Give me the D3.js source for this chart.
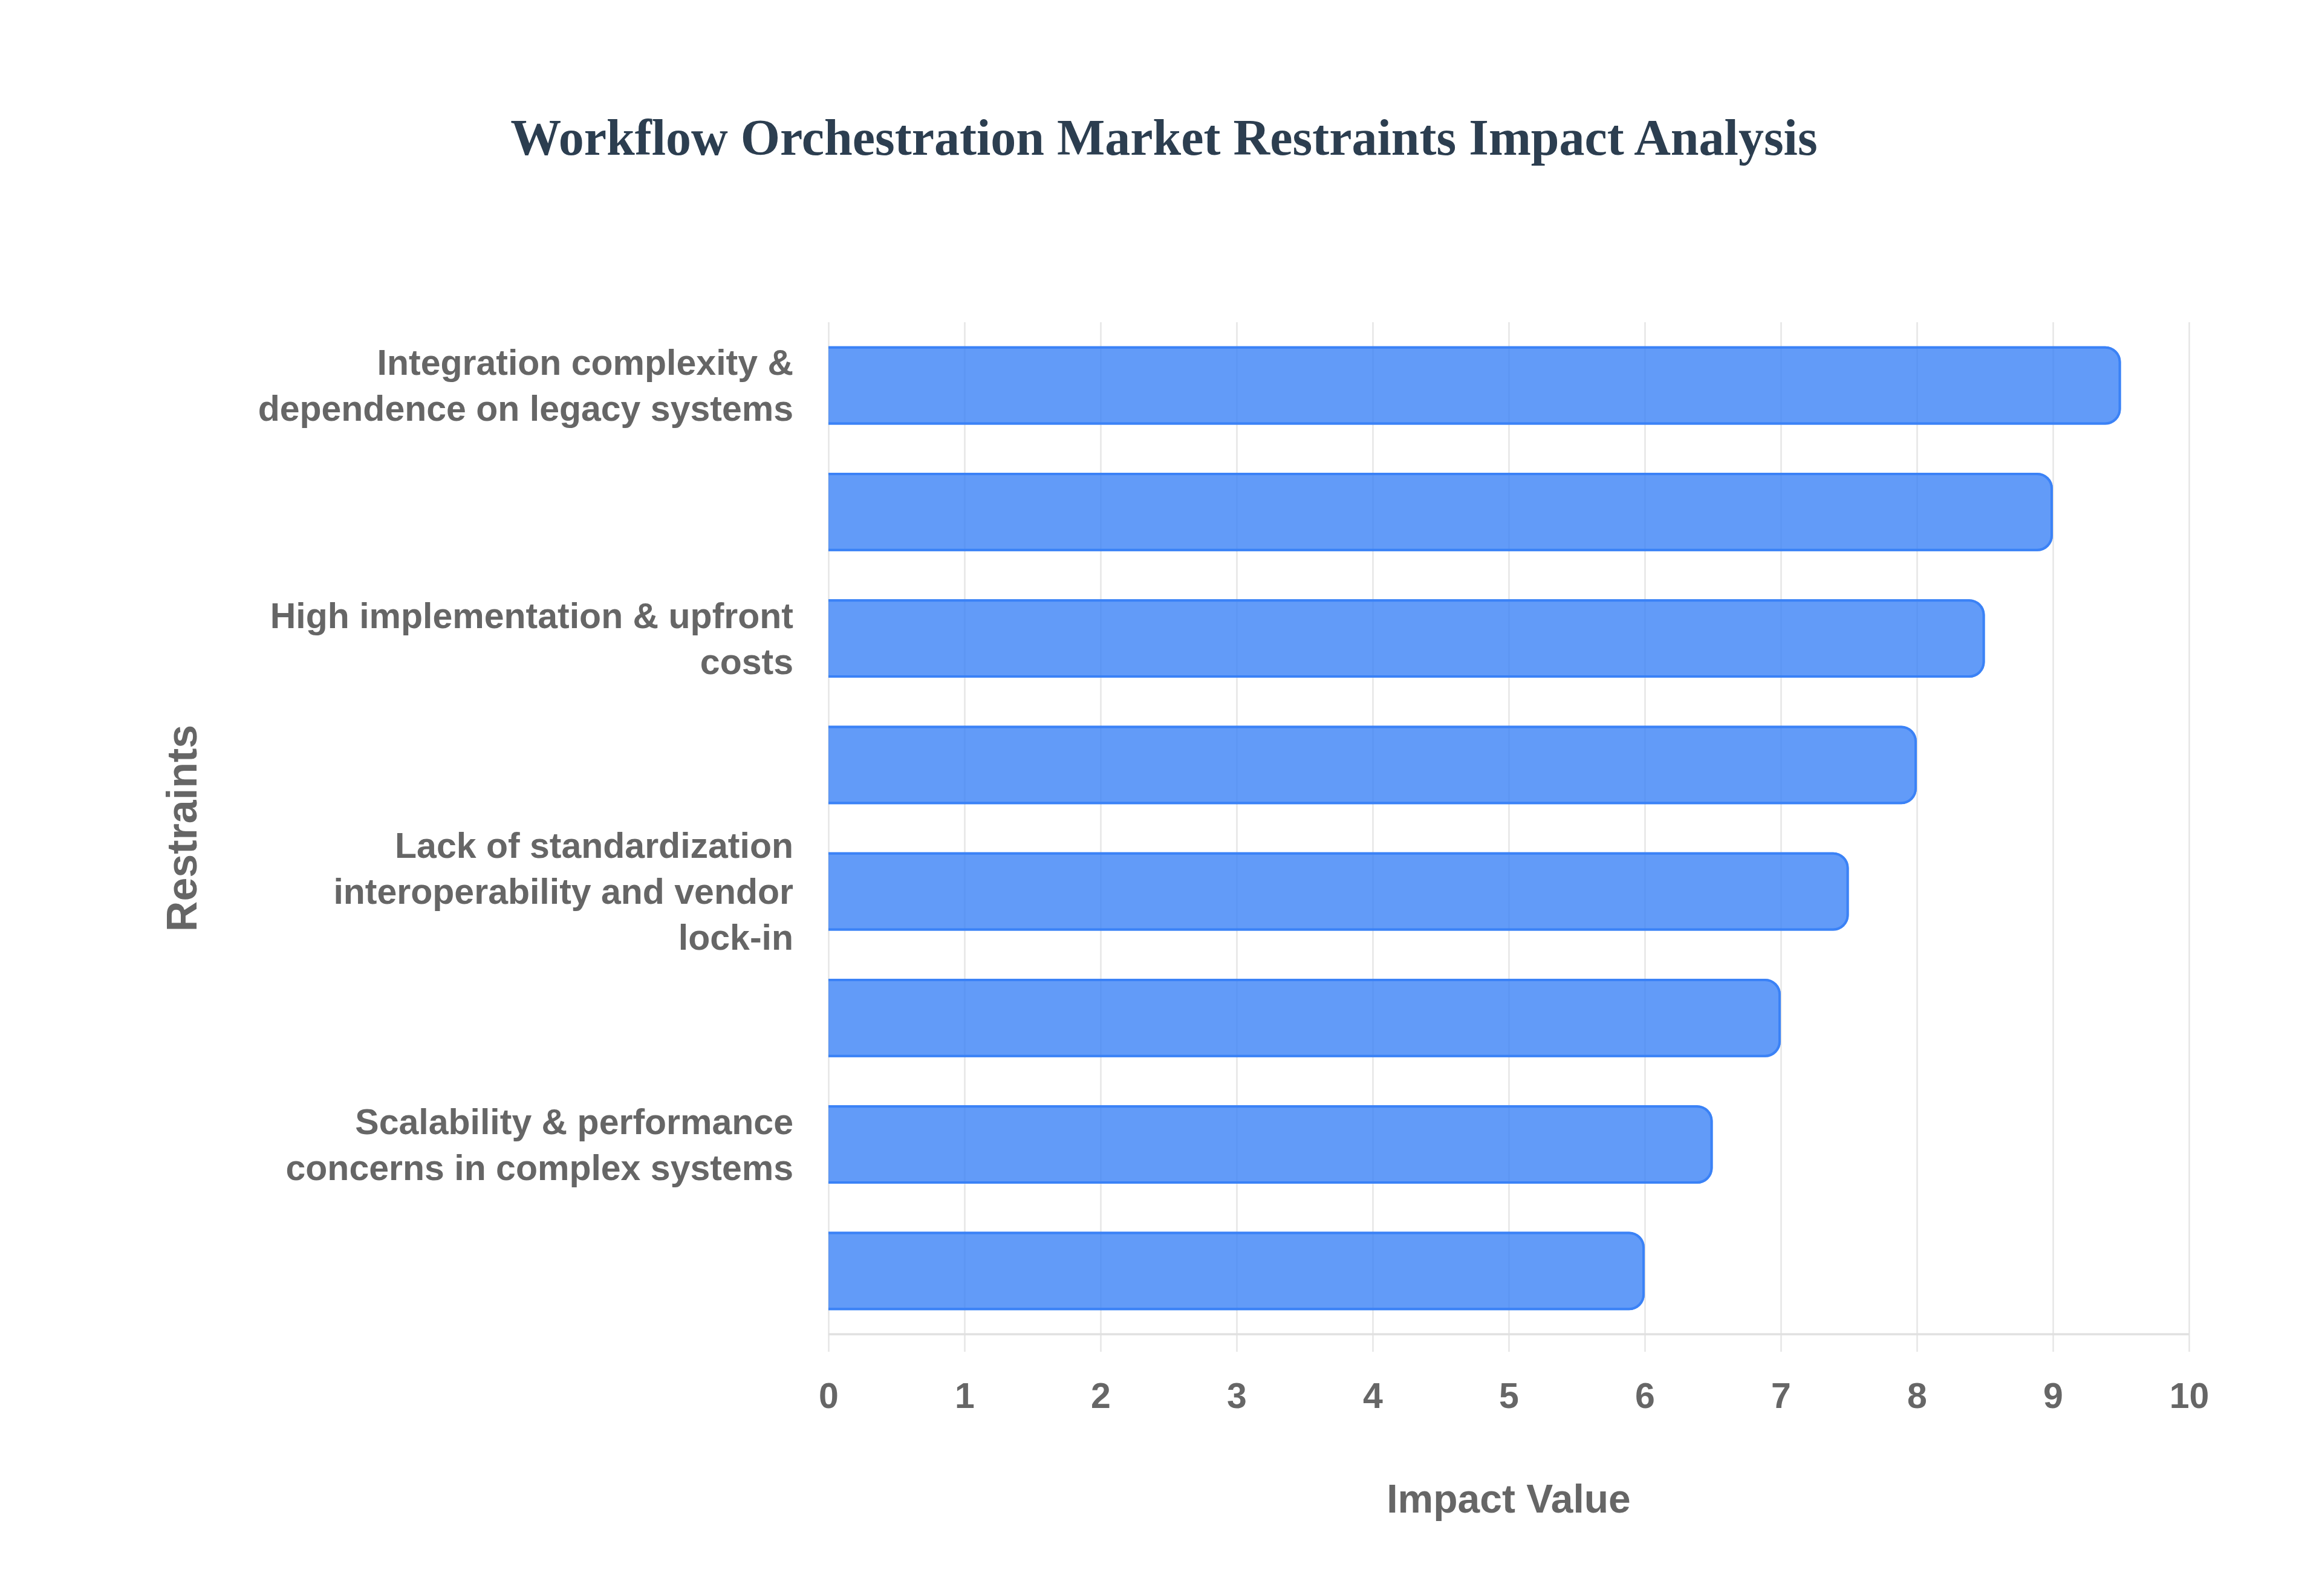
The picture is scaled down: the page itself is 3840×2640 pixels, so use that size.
<!DOCTYPE html>
<meta charset="utf-8">
<style>
body {
  margin: 0;
  background-color: white;
}
svg {
  display: block;
}
.title {
  font-family: "Liberation Serif", "Times New Roman", Times, serif;
  font-weight: bold;
  font-size: 84px;
  fill: #2c3e50;
  text-anchor: middle;
}
.tick-label, .axis-title {
  font-family: "Liberation Sans", Arial, Helvetica, sans-serif;
  font-weight: bold;
  fill: #666666;
}
.tick-label { font-size: 59px; }
.axis-title { font-size: 66px; text-anchor: middle; }
.axis-title.y-title { font-size: 70px; }
</style>
<body>

<!-- load the d3.js library -->
<script src="https://cdn.jsdelivr.net/npm/d3@7"></script>

<script>
// chart data
// every second category label is skipped on the axis, so those names are not known
var categories = [
  "Integration complexity & dependence on legacy systems",
  "Restraint 2",
  "High implementation & upfront costs",
  "Restraint 4",
  "Lack of standardization interoperability and vendor lock-in",
  "Restraint 6",
  "Scalability & performance concerns in complex systems",
  "Restraint 8"
];
var impactValues = [9.5, 9, 8.5, 8, 7.5, 7, 6.5, 6];
var xTicks = [0, 1, 2, 3, 4, 5, 6, 7, 8, 9, 10];

var chartTitle = "Workflow Orchestration Market Restraints Impact Analysis",
    xTitle = "Impact Value",
    yTitle = "Restraints";

// page and plot area
var svgWidth = 3840,
    svgHeight = 2640;
var plot = {left: 1370, right: 3620, top: 533, bottom: 2207};

var data = categories.map(function(c, i) { return {label: c, value: impactValues[i]}; });

var x = d3.scaleLinear()
    .domain([0, 10])
    .range([plot.left, plot.right]);

var y = d3.scaleBand()
    .domain(categories)
    .range([plot.top, plot.bottom])
    .paddingInner(0.38)
    .paddingOuter(0.19);

var svg = d3.select("body").append("svg")
    .attr("width", svgWidth)
    .attr("height", svgHeight)
    .attr("viewBox", "0 0 " + svgWidth + " " + svgHeight);

// title
svg.append("text")
    .attr("class", "title")
    .attr("x", 1925)
    .attr("y", 256)
    .text(chartTitle);

// vertical grid lines + x ticks
var tickExtra = 29;
var xAxis = svg.append("g")
    .attr("transform", "translate(0," + plot.bottom + ")")
    .call(d3.axisBottom(x).tickValues(xTicks).tickSize(0).tickPadding(0));
xAxis.select(".domain").remove();
xAxis.selectAll(".tick line")
    .attr("y1", tickExtra)
    .attr("y2", -(plot.bottom - plot.top))
    .attr("stroke", "#e6e6e6")
    .attr("stroke-width", 2.5);
xAxis.selectAll(".tick text")
    .attr("class", "tick-label")
    .attr("y", 122)
    .attr("dy", null)
    .attr("fill", null)
    .style("text-anchor", "middle");
xAxis.attr("font-size", null).attr("font-family", null);

// bottom border line
svg.append("line")
    .attr("x1", plot.left)
    .attr("x2", plot.right)
    .attr("y1", plot.bottom)
    .attr("y2", plot.bottom)
    .attr("stroke", "#e0e0e0")
    .attr("stroke-width", 3.5);

// bars: rounded on the end, no border on the base side
var radius = 26,
    borderWidth = 4;

function barFill(d) {
  var x0 = x(0), x1 = x(d.value), y0 = y(d.label), h = y.bandwidth();
  var r = Math.min(radius, h / 2, x1 - x0);
  return "M" + x0 + "," + y0 +
         "H" + (x1 - r) +
         "A" + r + "," + r + " 0 0 1 " + x1 + "," + (y0 + r) +
         "V" + (y0 + h - r) +
         "A" + r + "," + r + " 0 0 1 " + (x1 - r) + "," + (y0 + h) +
         "H" + x0 + "Z";
}

function barBorder(d) {
  var b = borderWidth / 2;
  var x0 = x(0), x1 = x(d.value) - b, y0 = y(d.label) + b, h = y.bandwidth() - borderWidth;
  var r = Math.min(radius - b, h / 2);
  return "M" + x0 + "," + y0 +
         "H" + (x1 - r) +
         "A" + r + "," + r + " 0 0 1 " + x1 + "," + (y0 + r) +
         "V" + (y0 + h - r) +
         "A" + r + "," + r + " 0 0 1 " + (x1 - r) + "," + (y0 + h) +
         "H" + x0;
}

var bars = svg.append("g").selectAll(".bar")
    .data(data)
    .enter().append("g")
    .attr("class", "bar");

bars.append("path")
    .attr("d", barFill)
    .attr("fill", "rgba(59, 130, 246, 0.8)");

bars.append("path")
    .attr("d", barBorder)
    .attr("fill", "none")
    .attr("stroke", "#3b82f6")
    .attr("stroke-width", borderWidth);

// y labels: only every second one fits, wrapped at ~30 characters
function wrapLabel(s, maxChars) {
  var words = s.split(" "), lines = [], line = "";
  words.forEach(function(w) {
    var test = line ? line + " " + w : w;
    if (test.length > maxChars && line) {
      lines.push(line);
      line = w;
    } else {
      line = test;
    }
  });
  if (line) lines.push(line);
  return lines;
}

var lineHeight = 76;
var yAxis = svg.append("g")
    .attr("transform", "translate(" + plot.left + ",0)")
    .call(d3.axisLeft(y).tickSize(0).tickPadding(58)
      .tickValues(categories.filter(function(c, i) { return i % 2 === 0; })));
yAxis.select(".domain").remove();
yAxis.attr("font-size", null).attr("font-family", null);
yAxis.selectAll(".tick text")
    .attr("class", "tick-label")
    .attr("fill", null)
    .attr("dy", null)
    .style("text-anchor", "end")
    .each(function(d) {
      var t = d3.select(this),
          lines = wrapLabel(d, 30),
          xPos = t.attr("x");
      t.text(null);
      lines.forEach(function(l, i) {
        t.append("tspan")
          .attr("x", xPos)
          .attr("y", (i - (lines.length - 1) / 2) * lineHeight)
          .attr("dy", "0.35em")
          .text(l);
      });
    });

// axis titles
svg.append("text")
    .attr("class", "axis-title")
    .attr("x", (plot.left + plot.right) / 2)
    .attr("y", 2502)
    .text(xTitle);

svg.append("text")
    .attr("class", "axis-title y-title")
    .attr("transform", "translate(325," + ((plot.top + plot.bottom) / 2) + ") rotate(-90)")
    .text(yTitle);
</script>
</body>
